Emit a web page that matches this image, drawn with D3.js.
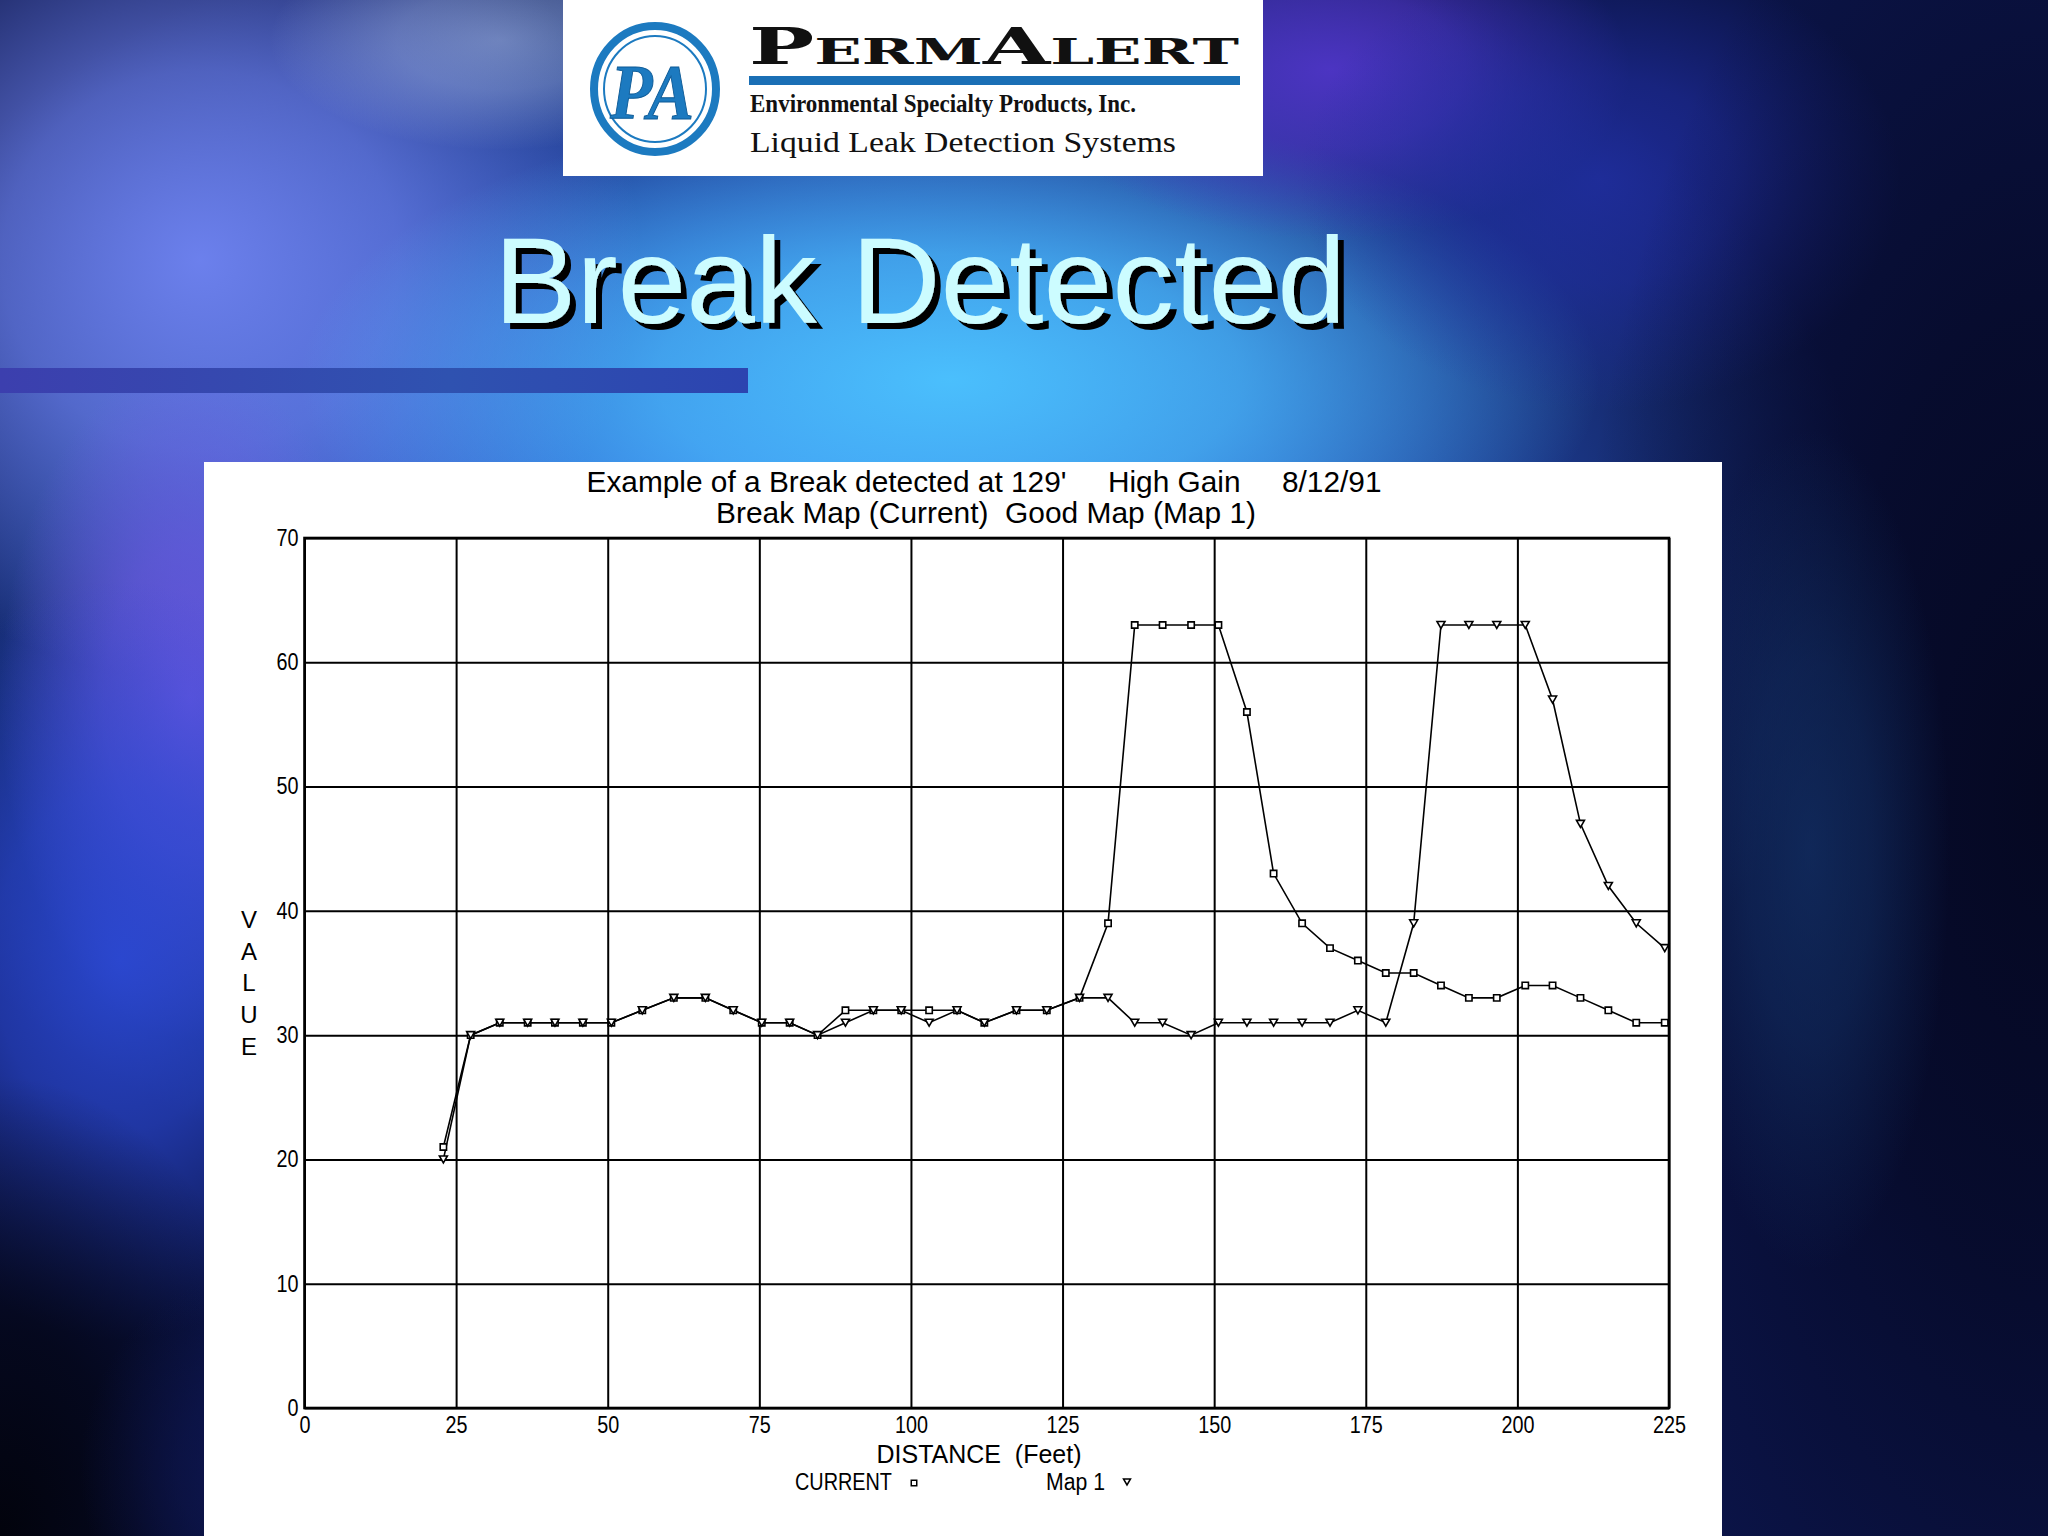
<!DOCTYPE html>
<html>
<head>
<meta charset="utf-8">
<script src="https://cdn.jsdelivr.net/npm/d3@7/dist/d3.min.js"></script>
<style>
  html, body { margin: 0; padding: 0; background: #0c1650; }
  svg { display: block; }
</style>
</head>
<body>
<svg id="chart" width="2048" height="1536"></svg>
<script>
// ---------------- DATA ----------------
const distanceFeet = [22.9, 27.4, 32.2, 36.8, 41.3, 45.9, 50.6, 55.7, 60.9, 66.1, 70.7, 75.4, 80.0, 84.6, 89.2,
  93.8, 98.4, 103.0, 107.6, 112.1, 117.4, 122.4, 127.8, 132.5, 136.9, 141.5, 146.2, 150.7, 155.4, 159.8,
  164.5, 169.1, 173.7, 178.3, 182.9, 187.4, 192.0, 196.6, 201.3, 205.8, 210.4, 215.0, 219.6, 224.3];
const currentValues = [21, 30, 31, 31, 31, 31, 31, 32, 33, 33, 32, 31, 31, 30, 32,
  32, 32, 32, 32, 31, 32, 32, 33, 39, 63, 63, 63, 63, 56, 43,
  39, 37, 36, 35, 35, 34, 33, 33, 34, 34, 33, 32, 31, 31];
const map1Values = [20, 30, 31, 31, 31, 31, 31, 32, 33, 33, 32, 31, 31, 30, 31,
  32, 32, 31, 32, 31, 32, 32, 33, 33, 31, 31, 30, 31, 31, 31,
  31, 31, 32, 31, 39, 63, 63, 63, 63, 57, 47, 42, 39, 37];
const xTickValues = [0, 25, 50, 75, 100, 125, 150, 175, 200, 225];
const yTickValues = [0, 10, 20, 30, 40, 50, 60, 70];
const seriesNames = ["CURRENT", "Map 1"];
const chartTitle1 = "Example of a Break detected at 129'     High Gain     8/12/91";
const chartTitle2 = "Break Map (Current)  Good Map (Map 1)";
const xAxisTitle = "DISTANCE  (Feet)";
const yAxisTitle = "VALUE";
const slideTitle = "Break Detected";

// ---------------- SETUP ----------------
const svg = d3.select("#chart");
const defs = svg.append("defs");

// ---------------- BACKGROUND ----------------
svg.append("rect").attr("width", 2048).attr("height", 1536).attr("fill", "#0b1448");
const blobs = [
  {cx: 820, cy: 560, rx: 1050, ry: 700, c: "#3672ee", o: 1},
  {cx: 200, cy: 260, rx: 440, ry: 420, c: "#7084f2", o: 0.95},
  {cx: 190, cy: 700, rx: 190, ry: 340, c: "#6e58e4", o: 0.9},
  {cx: 120, cy: 960, rx: 280, ry: 380, c: "#2c4ad8", o: 0.9},
  {cx: 950, cy: 380, rx: 650, ry: 280, c: "#4cc4ff", o: 0.95},
  {cx: 500, cy: 40, rx: 230, ry: 110, c: "#c8dcff", o: 0.45},
  {cx: 1330, cy: 70, rx: 300, ry: 170, c: "#5236cc", o: 0.9},
  {cx: 1600, cy: 180, rx: 300, ry: 230, c: "#2230a8", o: 0.8},
  {cx: 2048, cy: 800, rx: 480, ry: 1050, c: "#050822", o: 1},
  {cx: 1810, cy: 850, rx: 140, ry: 420, c: "#163a74", o: 0.6},
  {cx: 0, cy: 1536, rx: 300, ry: 460, c: "#02030c", o: 1},
  {cx: 260, cy: 1470, rx: 180, ry: 200, c: "#0f1856", o: 0.8}
];
blobs.forEach((b, i) => {
  const g = defs.append("radialGradient").attr("id", "blob" + i);
  g.append("stop").attr("offset", "0%").attr("stop-color", b.c).attr("stop-opacity", b.o);
  g.append("stop").attr("offset", "45%").attr("stop-color", b.c).attr("stop-opacity", b.o * 0.7);
  g.append("stop").attr("offset", "100%").attr("stop-color", b.c).attr("stop-opacity", 0);
});
svg.append("g").selectAll("ellipse").data(blobs).join("ellipse")
  .attr("cx", d => d.cx).attr("cy", d => d.cy).attr("rx", d => d.rx).attr("ry", d => d.ry)
  .attr("fill", (d, i) => `url(#blob${i})`);

// ---------------- LOGO ----------------
const logo = svg.append("g");
logo.append("rect").attr("x", 563).attr("y", 0).attr("width", 700).attr("height", 176).attr("fill", "#ffffff");
logo.append("ellipse").attr("cx", 655).attr("cy", 89).attr("rx", 61).attr("ry", 63)
  .attr("fill", "none").attr("stroke", "#1c7ac0").attr("stroke-width", 8);
logo.append("ellipse").attr("cx", 655).attr("cy", 89).attr("rx", 51).attr("ry", 53)
  .attr("fill", "none").attr("stroke", "#1c7ac0").attr("stroke-width", 2);
logo.append("text").attr("x", 652).attr("y", 118)
  .attr("text-anchor", "middle")
  .attr("font-family", "'Liberation Serif', serif").attr("font-style", "italic").attr("font-weight", "bold")
  .attr("font-size", 78).attr("fill", "#1c7ac0").attr("stroke", "#0d5a96").attr("stroke-width", 1)
  .attr("textLength", 84).attr("lengthAdjust", "spacingAndGlyphs")
  .text("PA");
const pa = logo.append("text").attr("x", 749).attr("y", 64)
  .attr("font-family", "'DejaVu Serif', 'Liberation Serif', serif").attr("font-weight", "bold")
  .attr("fill", "#111").attr("textLength", 490).attr("lengthAdjust", "spacingAndGlyphs");
pa.append("tspan").attr("font-size", 50).text("P");
pa.append("tspan").attr("font-size", 36).text("ERM");
pa.append("tspan").attr("font-size", 50).text("A");
pa.append("tspan").attr("font-size", 36).text("LERT");
logo.append("rect").attr("x", 749).attr("y", 76).attr("width", 491).attr("height", 9).attr("fill", "#1a6fb5");
logo.append("text").attr("x", 750).attr("y", 112)
  .attr("font-family", "'Liberation Serif', serif").attr("font-weight", "bold")
  .attr("font-size", 25).attr("fill", "#111")
  .attr("textLength", 386).attr("lengthAdjust", "spacingAndGlyphs")
  .text("Environmental Specialty Products, Inc.");
logo.append("text").attr("x", 750).attr("y", 152)
  .attr("font-family", "'Liberation Serif', serif")
  .attr("font-size", 30).attr("fill", "#111")
  .attr("textLength", 426).attr("lengthAdjust", "spacingAndGlyphs")
  .text("Liquid Leak Detection Systems");

// ---------------- SLIDE TITLE (with drop shadow) ----------------
const shadow = defs.append("filter").attr("id", "shadow")
  .attr("x", "-5%").attr("y", "-20%").attr("width", "110%").attr("height", "140%");
shadow.append("feDropShadow").attr("dx", 6).attr("dy", 6).attr("stdDeviation", 0.6)
  .attr("flood-color", "#000").attr("flood-opacity", 1);
svg.append("text").attr("x", 494).attr("y", 323)
  .attr("font-family", "'Liberation Sans', Arial, sans-serif").attr("font-size", 122)
  .attr("fill", "#ccfcff").attr("filter", "url(#shadow)")
  .attr("textLength", 852).attr("lengthAdjust", "spacingAndGlyphs")
  .text(slideTitle);

// decorative bar
const barGrad = defs.append("linearGradient").attr("id", "barGrad");
barGrad.append("stop").attr("offset", "0%").attr("stop-color", "#3c3fae");
barGrad.append("stop").attr("offset", "60%").attr("stop-color", "#2f52b0");
barGrad.append("stop").attr("offset", "100%").attr("stop-color", "#2c44b0");
svg.append("rect").attr("x", 0).attr("y", 368).attr("width", 748).attr("height", 25).attr("fill", "url(#barGrad)");

// ---------------- CHART PANEL ----------------
svg.append("rect").attr("x", 204).attr("y", 462).attr("width", 1518).attr("height", 1080).attr("fill", "#ffffff");

const x = d3.scaleLinear().domain([0, 225]).range([304.5, 1669]);
const y = d3.scaleLinear().domain([0, 70]).range([1408, 538]);
const font = "'Liberation Sans', Arial, sans-serif";

// grid
const grid = svg.append("g");
grid.append("g").attr("transform", `translate(0,${y(0)})`)
  .call(d3.axisBottom(x).tickValues(xTickValues).tickSize(-(y(0) - y(70))).tickFormat(""))
  .call(g => g.select(".domain").remove())
  .call(g => g.selectAll("line").attr("stroke", "#000").attr("stroke-width", 2));
grid.append("g").attr("transform", `translate(${x(0)},0)`)
  .call(d3.axisLeft(y).tickValues(yTickValues).tickSize(-(x(225) - x(0))).tickFormat(""))
  .call(g => g.select(".domain").remove())
  .call(g => g.selectAll("line").attr("stroke", "#000").attr("stroke-width", 2));
svg.append("rect").attr("x", x(0)).attr("y", y(70)).attr("width", x(225) - x(0)).attr("height", y(0) - y(70))
  .attr("fill", "none").attr("stroke", "#000").attr("stroke-width", 2.6);

// axis labels
const xAxis = svg.append("g").attr("transform", `translate(0,${y(0)})`)
  .call(d3.axisBottom(x).tickValues(xTickValues).tickSize(0).tickPadding(9).tickFormat(d3.format("d")));
xAxis.select(".domain").remove();
xAxis.selectAll("text").attr("font-family", font).attr("font-size", 23).attr("fill", "#000")
  .attr("transform", "scale(0.86,1)");
const yAxis = svg.append("g").attr("transform", `translate(${x(0) - 6},0)`)
  .call(d3.axisLeft(y).tickValues(yTickValues).tickSize(0).tickPadding(0).tickFormat(d3.format("d")));
yAxis.select(".domain").remove();
yAxis.selectAll("text").attr("font-family", font).attr("font-size", 23).attr("fill", "#000")
  .attr("transform", "scale(0.86,1)");

// titles
svg.append("text").attr("x", 984).attr("y", 492).attr("text-anchor", "middle")
  .attr("font-family", font).attr("font-size", 29).attr("fill", "#000")
  .style("white-space", "pre")
  .attr("textLength", 795).attr("lengthAdjust", "spacingAndGlyphs")
  .text(chartTitle1);
svg.append("text").attr("x", 986).attr("y", 523).attr("text-anchor", "middle")
  .attr("font-family", font).attr("font-size", 29).attr("fill", "#000")
  .style("white-space", "pre")
  .attr("textLength", 540).attr("lengthAdjust", "spacingAndGlyphs")
  .text(chartTitle2);
svg.append("text").attr("x", 979).attr("y", 1463).attr("text-anchor", "middle")
  .attr("font-family", font).attr("font-size", 25).attr("fill", "#000")
  .style("white-space", "pre")
  .attr("textLength", 205).attr("lengthAdjust", "spacingAndGlyphs")
  .text(xAxisTitle);
svg.append("g").selectAll("text").data(yAxisTitle.split("")).join("text")
  .attr("x", 249).attr("y", (d, i) => 928 + i * 31.7).attr("text-anchor", "middle")
  .attr("font-family", font).attr("font-size", 24).attr("fill", "#000")
  .text(d => d);

// ---------------- SERIES ----------------
const series = [
  {name: seriesNames[0], values: currentValues, marker: "square"},
  {name: seriesNames[1], values: map1Values, marker: "triangle"}
];
const line = d3.line().x(d => x(d[0])).y(d => y(d[1]));
const symSquare = d3.symbol().type(d3.symbolSquare).size(40);
const triPath = "M-4,-3.5L4,-3.5L0,3.5Z";

series.forEach(s => {
  const pts = distanceFeet.map((f, i) => [f, s.values[i]]);
  svg.append("path").datum(pts).attr("d", line)
    .attr("fill", "none").attr("stroke", "#000").attr("stroke-width", 1.6);
});
series.forEach(s => {
  const pts = distanceFeet.map((f, i) => [f, s.values[i]]);
  svg.append("g").selectAll("path").data(pts).join("path")
    .attr("transform", d => `translate(${x(d[0])},${y(d[1])})`)
    .attr("d", s.marker === "square" ? symSquare() : triPath)
    .attr("fill", "#fff").attr("stroke", "#000").attr("stroke-width", 1.6);
});

// ---------------- LEGEND ----------------
svg.append("text").attr("x", 795).attr("y", 1490)
  .attr("font-family", font).attr("font-size", 23).attr("fill", "#000")
  .attr("textLength", 97).attr("lengthAdjust", "spacingAndGlyphs").text(seriesNames[0]);
svg.append("path").attr("transform", "translate(914,1483)").attr("d", d3.symbol().type(d3.symbolSquare).size(30)())
  .attr("fill", "#fff").attr("stroke", "#000").attr("stroke-width", 1.5);
svg.append("text").attr("x", 1046).attr("y", 1490)
  .attr("font-family", font).attr("font-size", 23).attr("fill", "#000")
  .attr("textLength", 59).attr("lengthAdjust", "spacingAndGlyphs").text(seriesNames[1]);
svg.append("path").attr("transform", "translate(1127,1482)").attr("d", "M-3.5,-3L3.5,-3L0,3Z")
  .attr("fill", "#fff").attr("stroke", "#000").attr("stroke-width", 1.5);
</script>
</body>
</html>
